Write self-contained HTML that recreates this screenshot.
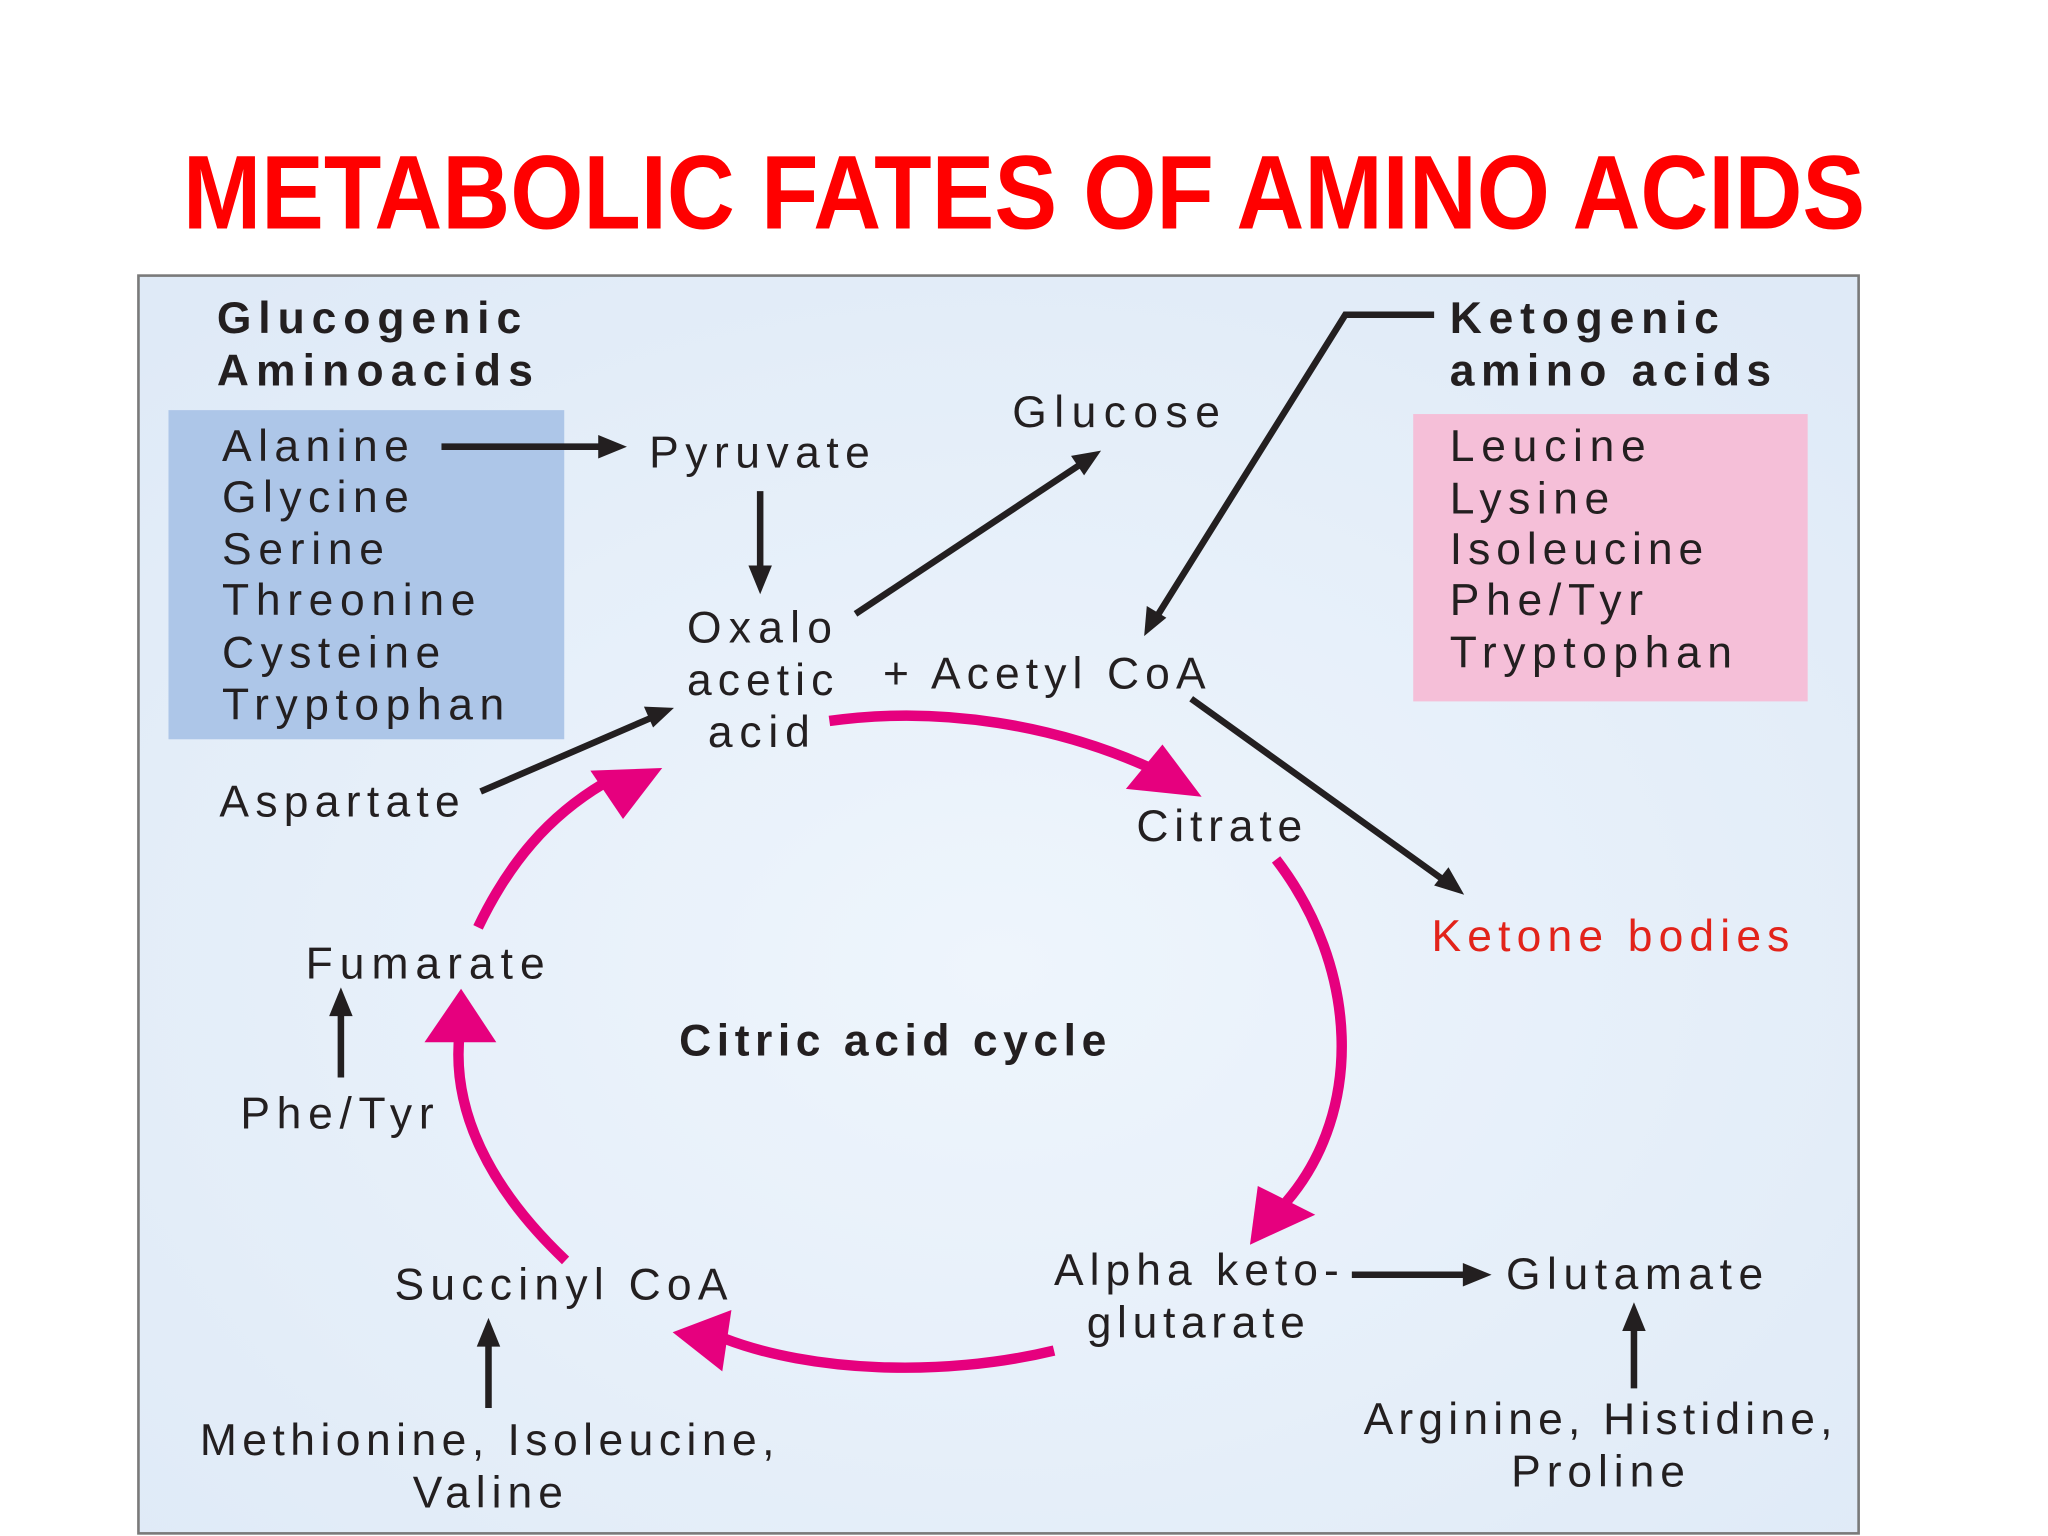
<!DOCTYPE html>
<html><head><meta charset="utf-8"><style>
html,body{margin:0;padding:0;background:#fff;}
svg{display:block;}
text{font-family:"Liberation Sans",sans-serif;fill:#231f20;}
</style></head><body>
<svg width="2048" height="1536" viewBox="0 0 1568 1176" preserveAspectRatio="none" xmlns="http://www.w3.org/2000/svg">
<defs>
<radialGradient id="bg" cx="0.5" cy="0.55" r="0.7">
<stop offset="0" stop-color="#eef5fc"/><stop offset="1" stop-color="#dfeaf7"/>
</radialGradient>
</defs>
<rect width="1568" height="1176" fill="#fff"/>
<text x="140" y="175" font-size="80" font-weight="bold" style="fill:#f00" textLength="1288" lengthAdjust="spacingAndGlyphs">METABOLIC FATES OF AMINO ACIDS</text>
<rect x="106" y="211" width="1317" height="963" fill="url(#bg)" stroke="#7a7a7a" stroke-width="2"/>
<rect x="129" y="314" width="303" height="252" fill="#adc6e8"/>
<rect x="1082" y="317" width="302" height="220" fill="#f5bfd8"/>
<g font-weight="bold" font-size="34" lengthAdjust="spacingAndGlyphs">
<text x="166" y="255" textLength="233">Glucogenic</text><text x="166" y="295" textLength="242">Aminoacids</text>
<text x="1110" y="255" textLength="206">Ketogenic</text><text x="1110" y="295" textLength="246">amino acids</text>
<text x="520" y="808" textLength="327">Citric acid cycle</text>
</g>
<g font-size="34" lengthAdjust="spacingAndGlyphs">
<text x="170" y="353" textLength="143">Alanine</text><text x="170" y="392" textLength="143">Glycine</text><text x="170" y="432" textLength="124">Serine</text>
<text x="170" y="471" textLength="194">Threonine</text><text x="170" y="511" textLength="167">Cysteine</text><text x="170" y="551" textLength="216">Tryptophan</text>
<text x="1110" y="353" textLength="150">Leucine</text><text x="1110" y="393" textLength="122">Lysine</text><text x="1110" y="432" textLength="194">Isoleucine</text>
<text x="1110" y="471" textLength="148">Phe/Tyr</text><text x="1110" y="511" textLength="216">Tryptophan</text>
<text x="497" y="358" textLength="169">Pyruvate</text><text x="775" y="327" textLength="159">Glucose</text>
<text x="526" y="492" textLength="111">Oxalo</text><text x="526" y="532" textLength="112">acetic</text><text x="542" y="572" textLength="78">acid</text>
<text x="676" y="527" textLength="247">+ Acetyl CoA</text>
<text x="168" y="625" textLength="184">Aspartate</text><text x="870" y="644" textLength="127">Citrate</text>
<text x="1096" y="728" style="fill:#e2231a" textLength="274">Ketone bodies</text>
<text x="234" y="749" textLength="183">Fumarate</text><text x="184" y="864" textLength="148">Phe/Tyr</text>
<text x="302" y="995" textLength="255">Succinyl CoA</text>
<text x="807" y="984" textLength="218">Alpha keto-</text><text x="832" y="1024" textLength="167">glutarate</text>
<text x="1153" y="987" textLength="197">Glutamate</text>
<text x="153" y="1114" textLength="440">Methionine, Isoleucine,</text><text x="316" y="1154" textLength="115">Valine</text>
<text x="1044" y="1098" textLength="359">Arginine, Histidine,</text><text x="1157" y="1138" textLength="133">Proline</text>
</g>
<g stroke="#231f20" stroke-width="5" fill="none">
<line x1="338" y1="342" x2="462" y2="342"/>
<line x1="582" y1="376" x2="582" y2="438"/>
<line x1="655" y1="470" x2="828" y2="355"/>
<polyline points="1098,241 1030,241 887,470"/>
<line x1="912" y1="535" x2="1107" y2="675"/>
<line x1="368" y1="606" x2="500" y2="549"/>
<line x1="1035" y1="976" x2="1125" y2="976"/>
<line x1="261" y1="825" x2="261" y2="772"/>
<line x1="374" y1="1078" x2="374" y2="1025"/>
<line x1="1251" y1="1063" x2="1251" y2="1012"/>
</g>
<g fill="#231f20">
<path d="M480,342 L458,333 L458,351 Z"/>
<path d="M582,455 L573,433 L591,433 Z"/>
<path d="M843,345 L820,349 L830,364 Z"/>
<path d="M876,487 L878,464 L893,473 Z"/>
<path d="M1121,685 L1098,678 L1109,664 Z"/>
<path d="M516,542 L493,541 L500,557 Z"/>
<path d="M1142,976 L1120,967 L1120,985 Z"/>
<path d="M261,756 L252,778 L270,778 Z"/>
<path d="M374,1009 L365,1031 L383,1031 Z"/>
<path d="M1251,997 L1242,1019 L1260,1019 Z"/>
</g>
<g stroke="#e6007e" stroke-width="8" fill="none">
<path d="M635,552 C720,540 810,555 885,590"/>
<path d="M977,658 C1040,740 1045,850 985,920"/>
<path d="M807,1034 C720,1055 620,1050 555,1025"/>
<path d="M433,965 C375,910 345,850 352,790"/>
<path d="M366,710 C390,660 420,625 462,600"/>
</g>
<g fill="#e6007e">
<path d="M920,610 L862,604 L890,570 Z"/>
<path d="M957,953 L963,908 L1007,930 Z"/>
<path d="M515,1020 L560,1003 L553,1050 Z"/>
<path d="M353,757 L325,798 L380,798 Z"/>
<path d="M507,588 L452,590 L477,627 Z"/>
</g>
</svg>
</body></html>
